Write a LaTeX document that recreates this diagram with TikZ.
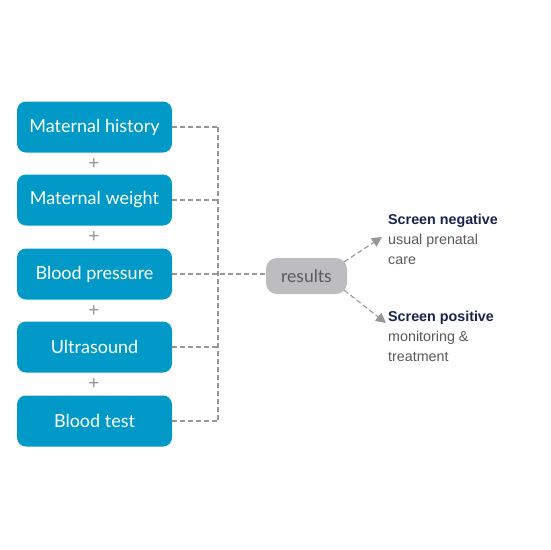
\documentclass[tikz,border=0pt]{standalone}
\usepackage{fontspec}
\setmainfont{Liberation Sans}
\newfontfamily\boxfont{Lato}
\usetikzlibrary{arrows.meta, positioning}
\definecolor{testblue}{RGB}{0,153,200}
\definecolor{resgrey}{RGB}{189,189,191}
\definecolor{linegrey}{RGB}{150,150,150}
\definecolor{navy}{RGB}{22,36,78}
\definecolor{txtgrey}{RGB}{90,90,90}
\tikzset{
  testbox/.style={draw=none, fill=testblue, rounded corners=9pt, minimum width=155pt,
    minimum height=51pt, text=white, font=\boxfont\fontsize{18}{20}\selectfont},
  resbox/.style={fill=resgrey, rounded corners=11pt, minimum width=81pt, minimum height=36pt,
    text=txtgrey, font=\boxfont\fontsize{17.5}{19}\selectfont},
  plus/.style={text=linegrey, font=\fontsize{19}{19}\selectfont},
  dashline/.style={draw=linegrey, dash pattern=on 5pt off 3pt, line width=1.1pt},
  outcome/.style={anchor=north west, align=left, inner sep=0pt, text=txtgrey,
    font=\fontsize{14.3}{20}\selectfont}
}

\begin{document}
\begin{tikzpicture}[x=1pt, y=-1pt]
  \useasboundingbox (0,0) rectangle (550,550);
  % tests
  \node[testbox] (hist) at (94.5,127) {Maternal history};
  \node[testbox] (weight) at (94.5,200) {Maternal weight};
  \node[testbox] (bp) at (94.5,274) {Blood pressure};
  \node[testbox] (us) at (94.5,347) {Ultrasound};
  \node[testbox] (blood) at (94.5,421) {Blood test};
  \node[plus] (p1) at (94,164) {+};
  \node[plus] (p2) at (94,237.5) {+};
  \node[plus] (p3) at (94,311) {+};
  \node[plus] (p4) at (94,384.5) {+};
  %
  \node[resbox] (res) at (306.5,276) {results};
  \coordinate (bus) at (218,0);
  \draw[dashline] (hist.east) -- (hist.east -| bus);
  \draw[dashline] (weight.east) -- (weight.east -| bus);
  \draw[dashline] (bp.east) -- (bp.east -| res.west);
  \draw[dashline] (us.east) -- (us.east -| bus);
  \draw[dashline] (blood.east) -- (blood.east -| bus);
  \draw[dashline] (hist.east -| bus) -- (blood.east -| bus);
  % outcomes
  \coordinate (negtip) at (382,237);
  \coordinate (postip) at (386,323);
  \draw[dashline, -{Triangle[length=10pt, width=10pt, fill=linegrey]}] (res.north east) ++(-3,4) -- (negtip);
  \draw[dashline, -{Triangle[length=10pt, width=10pt, fill=linegrey]}] (res.south east) ++(-3,-4) -- (postip);
  \node[outcome] (neg) at (388,214) {\textcolor{navy}{\bfseries Screen negative}\\usual prenatal\\care};
  \node[outcome] (pos) at (388,311) {\textcolor{navy}{\bfseries Screen positive}\\monitoring \&\\treatment};
\end{tikzpicture}
\end{document}
